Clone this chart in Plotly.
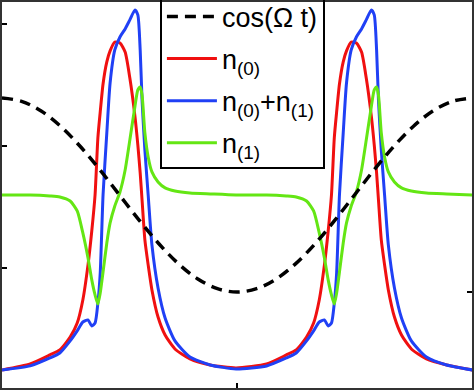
import plotly.graph_objects as go

# ---- data ----
# time in units of the drive period T = 2*pi/Omega
t_cos = [i / 24 for i in range(25)]
cos_vals = [1.0, 0.966, 0.866, 0.707, 0.5, 0.259, 0.0, -0.259, -0.5, -0.707, -0.866, -0.966,
            -1.0, -0.966, -0.866, -0.707, -0.5, -0.259, 0.0, 0.259, 0.5, 0.707, 0.866, 0.966, 1.0]

t_n = [0.000, 0.060, 0.102, 0.123, 0.145, 0.160, 0.172, 0.183, 0.191, 0.198, 0.204, 0.209,
       0.215, 0.223, 0.230, 0.240, 0.251, 0.262, 0.272, 0.283, 0.289, 0.294, 0.298, 0.304,
       0.311, 0.319, 0.332, 0.347, 0.368, 0.400, 0.443, 0.498,
       0.563, 0.605, 0.626, 0.648, 0.663, 0.675, 0.686, 0.694, 0.701, 0.707, 0.712,
       0.718, 0.726, 0.733, 0.743, 0.754, 0.765, 0.775, 0.786, 0.792, 0.797, 0.801, 0.807,
       0.814, 0.822, 0.835, 0.850, 0.871, 0.903, 0.946, 1.001]

n0 = [0.164, 0.213, 0.287, 0.328, 0.434, 0.549, 0.738, 1.025, 1.303, 1.598, 2.066, 2.279,
      2.508, 2.689, 2.779, 2.852, 2.844, 2.770, 2.557, 2.238, 2.008, 1.779, 1.557, 1.230,
      1.025, 0.820, 0.598, 0.451, 0.336, 0.254, 0.205, 0.180,
      0.213, 0.287, 0.328, 0.434, 0.549, 0.738, 1.025, 1.303, 1.598, 2.066, 2.279,
      2.508, 2.689, 2.779, 2.852, 2.844, 2.770, 2.557, 2.238, 2.008, 1.779, 1.557, 1.230,
      1.025, 0.820, 0.598, 0.451, 0.336, 0.254, 0.205, 0.164]

n01 = [0.164, 0.197, 0.262, 0.303, 0.402, 0.484, 0.557, 0.574, 0.525, 0.549, 0.713, 0.959,
       1.598, 2.107, 2.516, 2.787, 2.893, 2.959, 3.033, 3.115, 3.074, 2.787, 2.377, 1.967,
       1.598, 1.189, 0.836, 0.590, 0.402, 0.270, 0.205, 0.172,
       0.197, 0.262, 0.303, 0.402, 0.484, 0.557, 0.574, 0.525, 0.549, 0.713, 0.959,
       1.598, 2.107, 2.516, 2.787, 2.893, 2.959, 3.033, 3.115, 3.074, 2.787, 2.377, 1.967,
       1.598, 1.189, 0.836, 0.590, 0.402, 0.270, 0.205, 0.164]

n1 = [1.598, 1.598, 1.590, 1.582, 1.549, 1.467, 1.287, 1.082, 0.902, 0.779, 0.705, 0.795,
      0.967, 1.205, 1.369, 1.508, 1.623, 1.803, 2.049, 2.328, 2.459, 2.484, 2.418, 2.107,
      1.910, 1.787, 1.705, 1.656, 1.631, 1.615, 1.607, 1.598,
      1.598, 1.590, 1.582, 1.549, 1.467, 1.287, 1.082, 0.902, 0.779, 0.705, 0.795,
      0.967, 1.205, 1.369, 1.508, 1.623, 1.803, 2.049, 2.328, 2.459, 2.484, 2.418, 2.107,
      1.910, 1.787, 1.705, 1.656, 1.631, 1.615, 1.607, 1.598]

names = ["cos(\u03a9 t)", "n<sub>(0)</sub>", "n<sub>(0)</sub>+n<sub>(1)</sub>", "n<sub>(1)</sub>"]
colors = ["#000000", "#f01010", "#2040f5", "#64e614"]

n_ticks = [1, 2, 3]
cos_ticks_left = [1]
cos_ticks_right = [-1]
x_ticks = [0.5]

# ---- figure ----
fig = go.Figure()
fig.add_trace(go.Scatter(x=t_cos, y=cos_vals, name=names[0], yaxis="y2", mode="lines",
                         line=dict(color=colors[0], width=3.5, dash="11px,7px", shape="spline"),
                         legendgroup="a"))
for i, (vals, grp) in enumerate([(n0, "b"), (n01, "c"), (n1, "d")]):
    fig.add_trace(go.Scatter(x=t_n, y=vals, name=names[i + 1], mode="lines",
                             line=dict(color=colors[i + 1], width=3, shape="spline", smoothing=0.6),
                             legendgroup=grp))

axis_common = dict(showgrid=False, zeroline=False, showticklabels=False,
                   ticks="inside", ticklen=5, tickwidth=2, tickcolor="black")

fig.update_layout(
    width=474, height=390,
    margin=dict(l=2, r=2, t=2, b=2, autoexpand=False),
    paper_bgcolor="white", plot_bgcolor="white",
    font=dict(family="Liberation Sans, Arial, sans-serif", size=27, color="black"),
    showlegend=True,
    legend=dict(x=0.336, y=1.030, xanchor="left", yanchor="top",
                bgcolor="rgba(255,255,255,0)", bordercolor="black", borderwidth=2,
                font=dict(size=27), tracegroupgap=4, itemwidth=50,
                entrywidth=108, entrywidthmode="pixels"),
    xaxis=dict(range=[0, 1], tickvals=x_ticks, showline=True, mirror=True,
               linecolor="#333333", linewidth=3, **axis_common),
    yaxis=dict(range=[0.016, 3.180], tickvals=n_ticks, showline=True, mirror=True,
               linecolor="#333333", linewidth=3, **axis_common),
    yaxis2=dict(range=[-1.99, 1.99], overlaying="y", side="right", tickvals=cos_ticks_right,
                showline=False, **axis_common),
    yaxis3=dict(range=[-1.99, 1.99], overlaying="y", side="left", tickvals=cos_ticks_left,
                showline=False, anchor="x", **axis_common),
)
# invisible helper trace so yaxis3 is rendered
fig.add_trace(go.Scatter(x=[0.5], y=[0], yaxis="y3", mode="markers", marker=dict(opacity=0),
                         showlegend=False, hoverinfo="skip"))

fig.write_html("out.html", config={"displayModeBar": False},
               post_script="document.body.style.margin='0';document.body.style.overflow='hidden';")
